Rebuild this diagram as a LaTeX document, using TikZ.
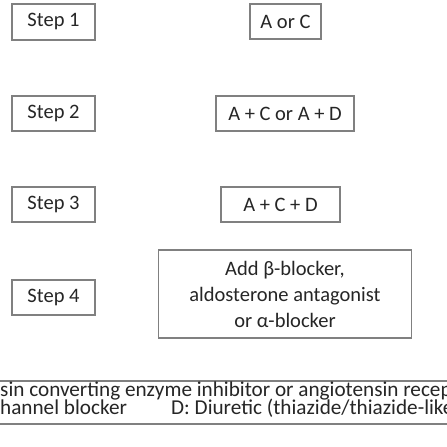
\documentclass[tikz,border=0pt]{standalone}
\usepackage{fontspec}
\setmainfont{Carlito}
\begin{document}
\begin{tikzpicture}[x=1pt,y=-1pt,
  box/.style={draw=black!50, line width=1.1pt, fill=white, inner sep=0pt, text=black!85,
    font=\fontsize{20.5}{26}\selectfont},
  legendtext/.style={inner sep=0pt, anchor=base west, text=black!85, font=\fontsize{21.2}{24}\selectfont}]
\useasboundingbox (0,0) rectangle (447,447);
\clip (0,0) rectangle (447,447);
\fill[white] (0,0) rectangle (447,447);
% step boxes
\node[box, minimum width=83pt, minimum height=36pt] (s1) at (53.5,22) {Step 1};
\node[box, minimum width=83pt, minimum height=35pt] (s2) at (53.5,113.5) {Step 2};
\node[box, minimum width=83pt, minimum height=35pt] (s3) at (53.5,204.5) {Step 3};
\node[box, minimum width=83pt, minimum height=35pt] (s4) at (53.5,297.5) {Step 4};
% treatment boxes
\node[box, minimum width=71pt, minimum height=35pt] (t1) at (285.5,21.5) {A or C};
\node[box, minimum width=138pt, minimum height=35pt] (t2) at (285,113.5) {A + C or A + D};
\node[box, minimum width=119pt, minimum height=35pt] (t3) at (280.5,204.5) {A + C + D};
\node[box, minimum width=253pt, minimum height=88pt, align=center] (t4) at (285,294)
  {Add β-blocker,\\aldosterone antagonist\\or α-blocker};
% legend
\node[box, minimum width=470pt, minimum height=43pt] (legend) at (223.5,402.5) {};
\node[legendtext] (l1) at (0,396) {\llap{A: Angioten}sin converting enzyme inhibitor or angiotensin receptor blocker};
\node[legendtext] (l2) at (0,414) {\llap{C: Calcium c}hannel blocker};
\node[legendtext] (l3) at (171,414) {D: Diuretic (thiazide/thiazide-like)};
\end{tikzpicture}
\end{document}
